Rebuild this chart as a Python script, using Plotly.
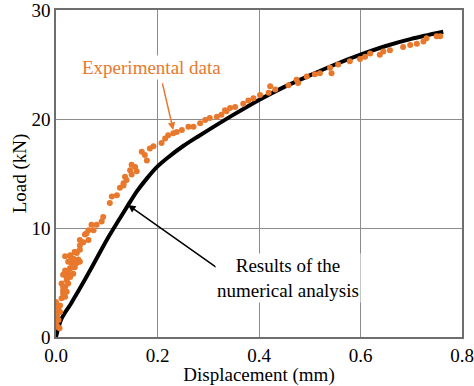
import plotly.graph_objects as go

# Numerical analysis curve (displacement mm, load kN)
num_x = [0.0, 0.005, 0.01, 0.02, 0.03, 0.04, 0.05, 0.067, 0.08, 0.1, 0.126, 0.142, 0.16,
         0.18, 0.2, 0.22, 0.25, 0.28, 0.3, 0.35, 0.4, 0.45, 0.5, 0.55, 0.6, 0.65, 0.7, 0.763]
num_y = [0.0, 0.9, 1.6, 2.4, 3.1, 3.9, 4.7, 6.1, 7.2, 8.9, 10.9, 12.1, 13.4,
         14.6, 15.65, 16.45, 17.5, 18.4, 18.98, 20.4, 21.75, 22.95, 24.0, 25.0, 25.9, 26.7, 27.35, 28.0]

# Experimental data points
exp_x = [0.003, 0.005, 0.001, 0.001, 0.0, 0.005, 0.008, 0.014, 0.018, 0.011, 0.021, 0.014,
         0.024, 0.018, 0.028, 0.031, 0.034, 0.041, 0.044, 0.047, 0.018,
         0.007, 0.001, 0.002, 0.008, 0.011, 0.014, 0.021, 0.024, 0.028, 0.034, 0.037,
         0.041, 0.024, 0.028, 0.047, 0.047, 0.057, 0.064, 0.070, 0.034, 0.021, 0.014,
         0.037, 0.028, 0.018,
         0.037, 0.047, 0.054, 0.064, 0.060, 0.074, 0.080, 0.090, 0.093, 0.106, 0.110,
         0.120, 0.126, 0.133, 0.139, 0.149, 0.159, 0.028,
         0.133, 0.136, 0.146, 0.149, 0.156, 0.169, 0.175, 0.179, 0.185, 0.192, 0.208,
         0.215, 0.221, 0.231, 0.238, 0.248, 0.261, 0.271, 0.284, 0.294, 0.303, 0.317,
         0.326, 0.336,
         0.333, 0.343, 0.353, 0.369, 0.379, 0.389, 0.402, 0.419, 0.422, 0.432, 0.458,
         0.474, 0.477, 0.494, 0.510, 0.520, 0.540, 0.543, 0.556,
         0.579, 0.599, 0.609, 0.619, 0.638, 0.645, 0.658, 0.684, 0.698, 0.711, 0.724,
         0.730, 0.750, 0.757]
exp_y = [0.95, 1.56, 2.2, 2.8, 3.2, 2.5, 2.9, 4.0, 4.6, 4.9, 5.2, 5.7,
         5.9, 6.1, 6.3, 6.8, 7.2, 7.7, 7.1, 8.0, 7.4,
         0.8, 1.1, 1.9, 2.3, 3.55, 4.3, 4.15, 4.9, 5.5, 5.8, 6.4,
         6.8, 6.9, 7.5, 6.9, 8.9, 9.4, 9.8, 10.3, 7.1, 5.5, 4.6,
         7.8, 6.3, 3.7,
         7.8, 8.4, 8.7, 8.9, 9.5, 9.8, 10.3, 10.6, 11.0, 12.3, 12.9,
         13.0, 13.7, 14.1, 14.4, 14.9, 15.2, 7.4,
         13.9, 14.7, 15.3, 15.8, 15.6, 17.0, 16.7, 16.2, 17.3, 17.5, 17.8,
         18.2, 18.5, 18.7, 18.8, 19.0, 19.3, 19.3, 19.6, 19.9, 20.1, 20.2,
         20.4, 20.7,
         20.8, 21.0, 21.1, 21.4, 21.7, 21.9, 22.2, 22.4, 23.0, 22.7, 23.1,
         23.6, 23.3, 23.9, 24.1, 24.2, 24.7, 24.2, 25.0,
         25.3, 25.5, 25.7, 26.0, 25.9, 26.2, 26.3, 26.6, 26.8, 26.9, 27.1,
         27.4, 27.6, 27.6]

x_ticks = [0.0, 0.2, 0.4, 0.6, 0.8]
x_tick_labels = ["0.0", "0.2", "0.4", "0.6", "0.8"]
y_ticks = [0, 10, 20, 30]
y_tick_labels = ["0", "10", "20", "30"]

ORANGE = "#E8782C"
FONT = "Liberation Serif, Times New Roman, serif"

fig = go.Figure()
fig.add_trace(go.Scatter(x=num_x, y=num_y, mode="lines",
                         line=dict(color="black", width=4, shape="spline", smoothing=0.8),
                         showlegend=False, hoverinfo="skip", cliponaxis=False))
fig.add_trace(go.Scatter(x=exp_x, y=exp_y, mode="markers",
                         marker=dict(color=ORANGE, size=6),
                         showlegend=False, hoverinfo="skip"))

# arrows
fig.add_annotation(x=0.231, y=19.0, ax=0.209, ay=23.4, xref="x", yref="y",
                   axref="x", ayref="y", text="", showarrow=True,
                   arrowhead=2, arrowsize=1, arrowwidth=1.5, arrowcolor=ORANGE)
fig.add_annotation(x=0.142, y=12.1, ax=0.319, ay=6.3, xref="x", yref="y",
                   axref="x", ayref="y", text="", showarrow=True,
                   arrowhead=2, arrowsize=1, arrowwidth=1.5, arrowcolor="black")
# labels
fig.add_annotation(x=0.189, y=24.7, xref="x", yref="y", text="Experimental data",
                   showarrow=False, bgcolor="white",
                   font=dict(family=FONT, size=19, color=ORANGE))
fig.add_annotation(x=0.457, y=5.4, xref="x", yref="y",
                   text="Results of the<br>numerical analysis",
                   showarrow=False, bgcolor="white", align="center",
                   font=dict(family=FONT, size=19, color="black"))

axis_common = dict(showline=True, mirror=True, linecolor="#6e6e6e", linewidth=1.5,
                   showgrid=True, gridcolor="#8c8c8c", gridwidth=1, zeroline=False,
                   ticks="", automargin=False, ticklabeloverflow="allow",
                   tickfont=dict(family=FONT, size=19, color="black"))
fig.update_xaxes(range=[0, 0.8], tickvals=x_ticks, ticktext=x_tick_labels,
                 title=dict(text="Displacement (mm)", font=dict(family=FONT, size=19, color="black"),
                            standoff=0),
                 **axis_common)
fig.update_yaxes(range=[0, 30], tickvals=y_ticks, ticktext=y_tick_labels,
                 title=dict(text="Load (kN)", font=dict(family=FONT, size=19, color="black"),
                            standoff=0),
                 **axis_common)

fig.update_layout(width=474, height=386, margin=dict(l=56, r=12, t=10, b=49, autoexpand=False),
                  paper_bgcolor="white", plot_bgcolor="white")

fig.write_html("out.html", config={"displayModeBar": False},
               post_script="document.body.style.margin='0';document.body.style.overflow='hidden';")
